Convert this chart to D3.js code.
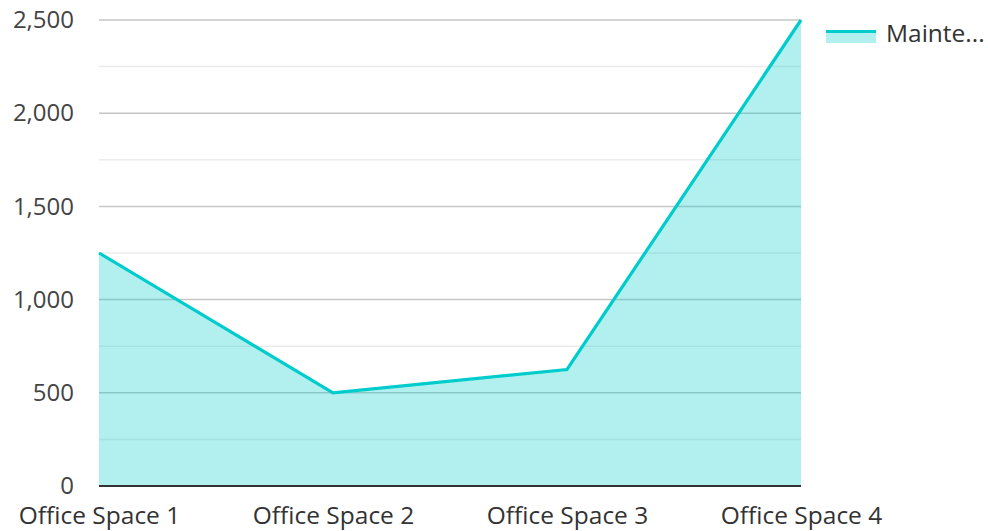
<!DOCTYPE html>
<html>
<head>
<meta charset="utf-8">
<script src="https://cdn.jsdelivr.net/npm/d3@7"></script>
<style>
	body { margin: 0; background: #fff; }
	svg text { font-family: "Open Sans", sans-serif; }
</style>
</head>
<body>
<div id="chart"></div>
<script>
var categories = ["Office Space 1", "Office Space 2", "Office Space 3", "Office Space 4"];
var values = [1250, 500, 625, 2500];
var seriesName = "Mainte...";
var yTicks = [0, 500, 1000, 1500, 2000, 2500];
var yMinorTicks = [250, 750, 1250, 1750, 2250];

var width = 988, height = 531;
var margin = {top: 20, right: 187, bottom: 45, left: 99};

var svg = d3.select("#chart")
	.append("svg")
	.attr("width", width)
	.attr("height", height);

var x = d3.scalePoint()
	.domain(categories)
	.range([margin.left, width - margin.right]);

var y = d3.scaleLinear()
	.domain([0, 2500])
	.range([height - margin.bottom, margin.top]);

//minor gridlines
svg.append("g").selectAll("line")
	.data(yMinorTicks)
	.enter().append("line")
	.attr("x1", margin.left).attr("x2", width - margin.right)
	.attr("y1", function(d){ return y(d); }).attr("y2", function(d){ return y(d); })
	.style("stroke", "#ebebeb").style("stroke-width", 1.5);

//major gridlines
svg.append("g").selectAll("line")
	.data(yTicks.filter(function(d){ return d > 0; }))
	.enter().append("line")
	.attr("x1", margin.left).attr("x2", width - margin.right)
	.attr("y1", function(d){ return y(d); }).attr("y2", function(d){ return y(d); })
	.style("stroke", "#c6c6c6").style("stroke-width", 1.5);

//area + line
var area = d3.area()
	.x(function(d, i){ return x(categories[i]); })
	.y0(y(0))
	.y1(function(d){ return y(d); });

var line = d3.line()
	.x(function(d, i){ return x(categories[i]); })
	.y(function(d){ return y(d); });

svg.append("path")
	.datum(values)
	.attr("d", area)
	.style("fill", "#00cccc")
	.style("fill-opacity", 0.3);

svg.append("path")
	.datum(values)
	.attr("d", line)
	.style("fill", "none")
	.style("stroke", "#00cccc")
	.style("stroke-width", 3.2)
	.style("stroke-linejoin", "miter");

//y axis
var yAxis = d3.axisLeft(y)
	.tickValues(yTicks)
	.tickSize(0)
	.tickPadding(25)
	.tickFormat(d3.format(","));

var gy = svg.append("g")
	.attr("transform", "translate(" + margin.left + ",0)")
	.call(yAxis);
gy.select(".domain").remove();
gy.selectAll("text")
	.style("font-size", "24px")
	.style("fill", "#444")
	.attr("dy", "0.32em");

//x axis
var xAxis = d3.axisBottom(x).tickSize(0).tickPadding(21);
var gx = svg.append("g")
	.attr("transform", "translate(0," + y(0) + ")")
	.call(xAxis);
gx.select(".domain")
	.attr("d", "M" + margin.left + ",0H" + (width - margin.right))
	.style("stroke", "#333")
	.style("stroke-width", 2);
gx.selectAll("text")
	.style("font-size", "24.5px")
	.style("fill", "#333");

//legend
var legend = svg.append("g").attr("transform", "translate(826,0)");
legend.append("rect")
	.attr("x", 0).attr("y", 30)
	.attr("width", 50).attr("height", 13)
	.style("fill", "#00cccc").style("fill-opacity", 0.3);
legend.append("line")
	.attr("x1", 0).attr("x2", 50)
	.attr("y1", 31.5).attr("y2", 31.5)
	.style("stroke", "#00cccc").style("stroke-width", 3);
legend.append("text")
	.attr("x", 60).attr("y", 33)
	.attr("dy", "0.35em")
	.style("font-size", "24.5px")
	.style("fill", "#333")
	.text(seriesName);
</script>
</body>
</html>
